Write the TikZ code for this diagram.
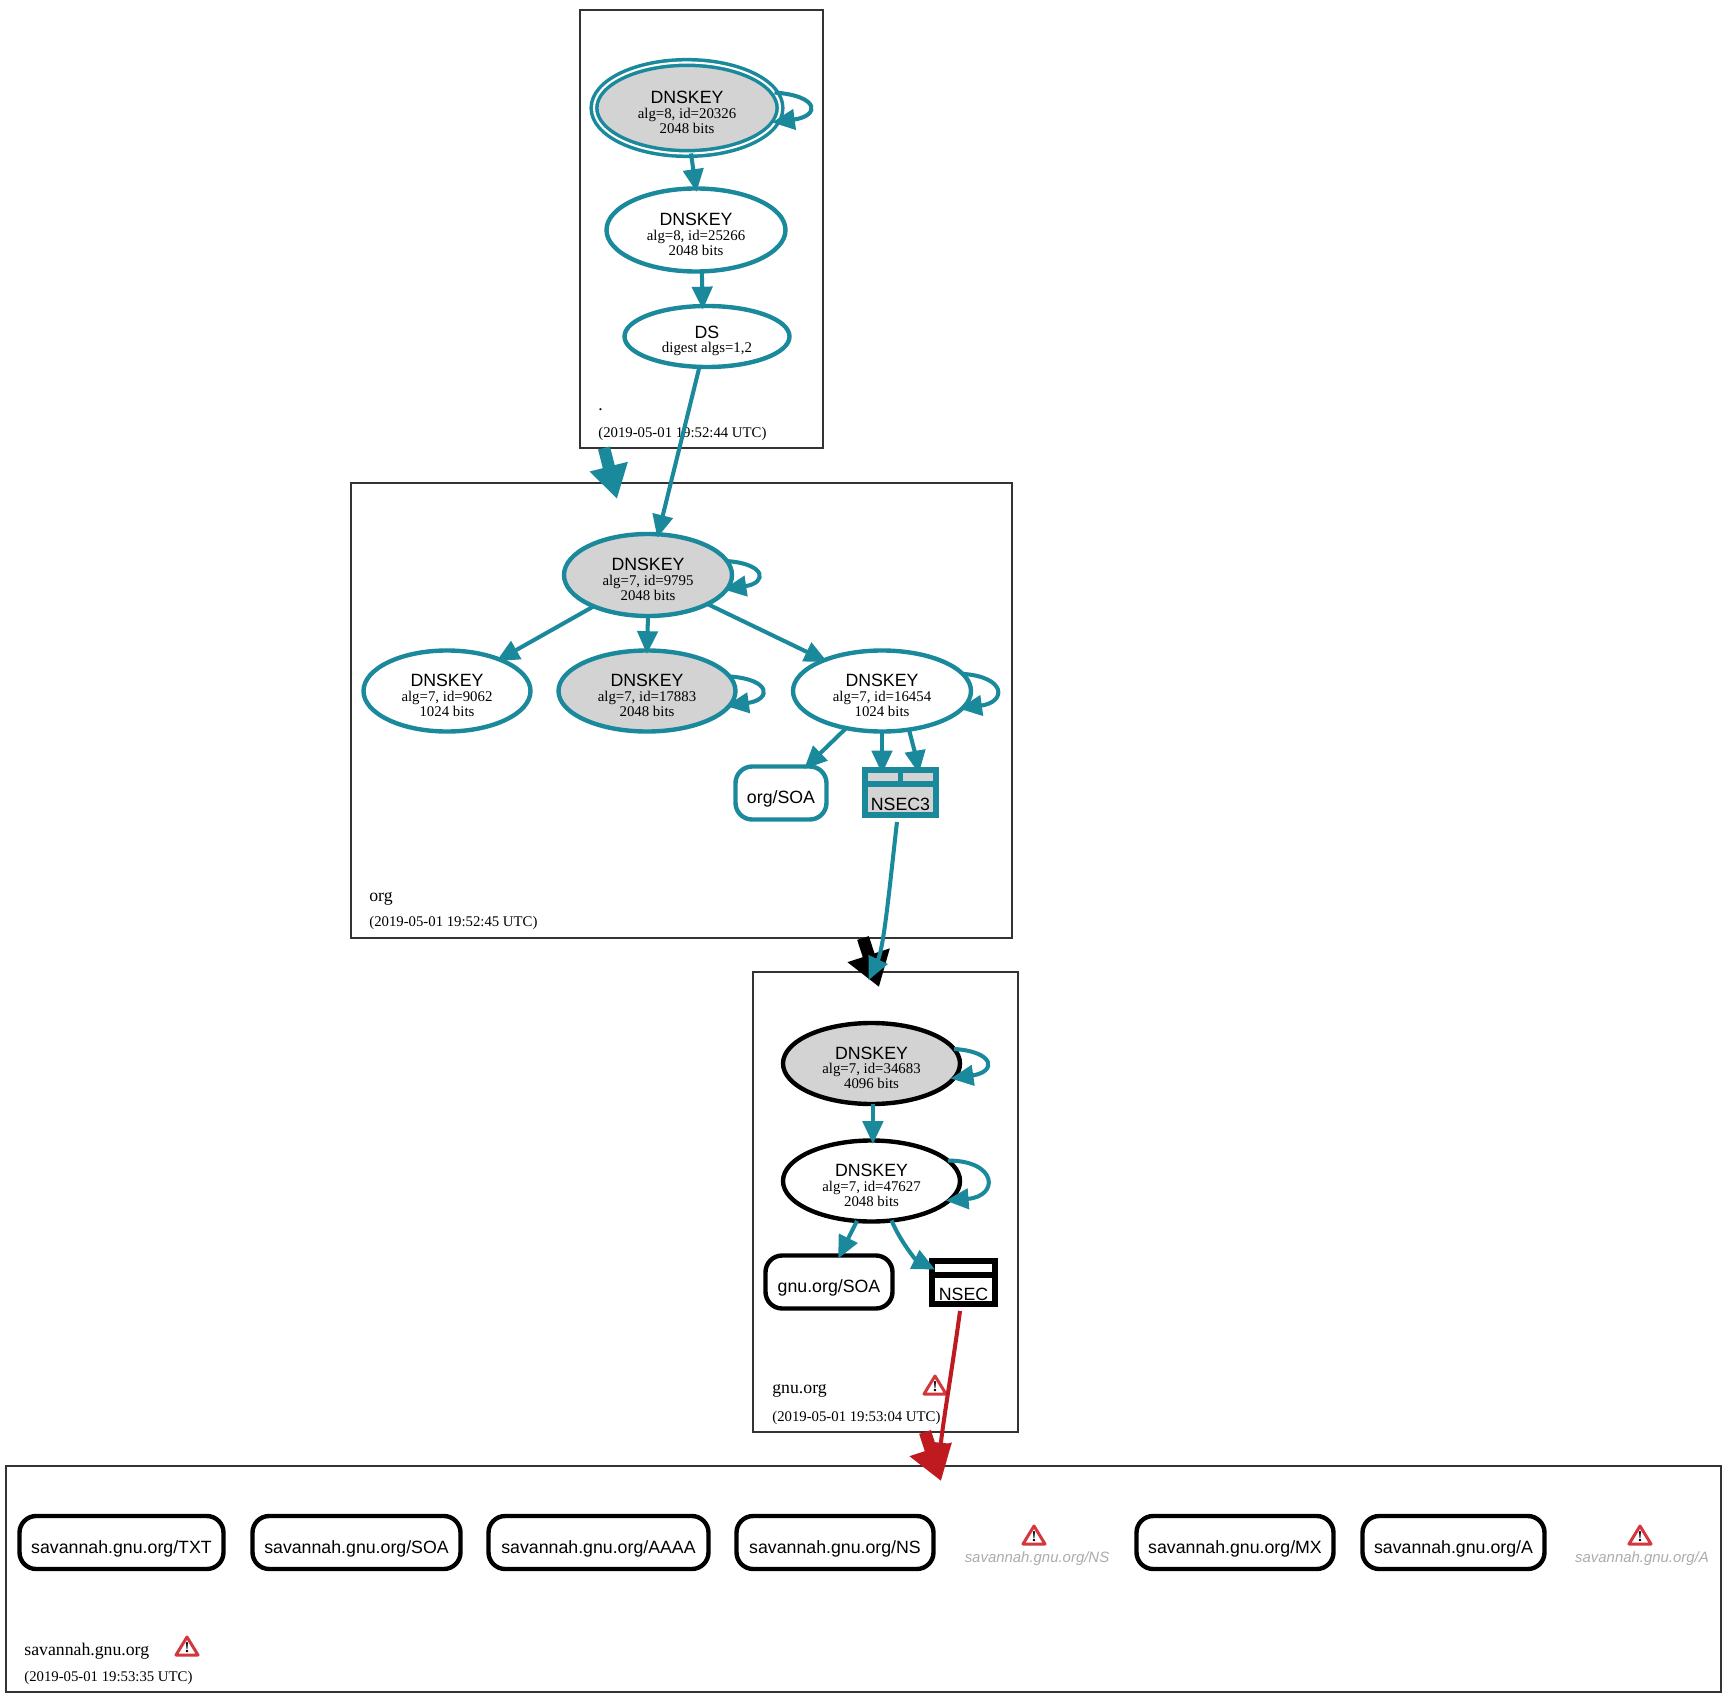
\documentclass[tikz,border=0pt]{standalone}
\usepackage{fontspec}
\setmainfont{Liberation Serif}
\setsansfont{Liberation Sans}
\usetikzlibrary{arrows.meta,shapes.geometric,fit}

\definecolor{dnsteal}{HTML}{1A899C}
\definecolor{dnsred}{HTML}{BE1A1F}
\definecolor{warnred}{HTML}{D2383D}
\definecolor{zoneline}{HTML}{333333}
\definecolor{ghostgray}{HTML}{ACACAC}
\definecolor{keygray}{HTML}{D3D3D3}

\newcommand{\keytext}[2]{{\sffamily\fontsize{10.1}{8.6}\selectfont\rule{0pt}{12pt}DNSKEY}\\#1\\#2}

\tikzset{
    zonebox/.style={draw=zoneline, line width=0.8pt, inner sep=0pt, outer sep=0pt},
    zonedate/.style={anchor=west, inner sep=0pt, font=\fontsize{8.4}{10}\selectfont},
    zonename/.style={anchor=west, inner sep=0pt, font=\fontsize{10.1}{12}\selectfont},
    keyshape/.style 2 args={ellipse, draw=dnsteal, line width=2.5pt, inner sep=0pt, outer sep=0pt,
        minimum width=#1*0.02cm, minimum height=#2*0.02cm, align=center,
        font=\fontsize{8.45}{8.4}\selectfont},
    blackkey/.style={draw=black},
    recbox/.style={draw=black, line width=2.5pt, rounded corners=9.5pt, inner sep=0pt, outer sep=0pt,
        font=\sffamily\fontsize{10.1}{12}\selectfont, text height=12pt, text depth=0pt,
        minimum height=53*0.02cm},
    nseccell/.style={line width=3.1pt, inner sep=0pt, outer sep=0pt,
        font=\sffamily\fontsize{10.1}{12}\selectfont, text height=13pt, text depth=0pt},
    ghosttext/.style={font=\sffamily\itshape\fontsize{8.5}{10}\selectfont, text=ghostgray, inner sep=0pt},
    sigedge/.style={-{Triangle[length=13pt,width=11.5pt]}, dnsteal, line width=2.3pt, shorten >=-2pt},
    zoneedge/.style={-{Triangle[length=19pt,width=#1]}, line width=7pt},
    warnicon/.pic={
        \draw[warnred, line width=1.7pt, line join=round, fill=white] (-11,9) -- (0,-9) -- (11,9) -- cycle;
        \node[inner sep=0pt, font=\bfseries\fontsize{8.5}{8.5}\selectfont] at (0,2) {!};
    }
}

\begin{document}
\begin{tikzpicture}[x=0.02cm, y=-0.02cm]
    \useasboundingbox (0,0) rectangle (1728,1696);
    \fill[white] (0,0) rectangle (1728,1696);

    \node (zoneroot) [zonebox, fit={(580,10) (823,448)}] {};
    \node (zoneorg) [zonebox, fit={(351,483) (1012,938)}] {};
    \node (zonegnu) [zonebox, fit={(753,972) (1018,1432)}] {};
    \node (zonesav) [zonebox, fit={(6,1466) (1721,1692)}] {};

    \node (rootname) [zonename] at (598,410) {.};
    \node (rootdate) [zonedate] at (598,434) {(2019-05-01 19:52:44 UTC)};
    \node (orgname) [zonename] at (369,899) {org};
    \node (orgdate) [zonedate] at (369,923) {(2019-05-01 19:52:45 UTC)};
    \node (gnuname) [zonename] at (772,1391) {gnu.org};
    \node (gnudate) [zonedate] at (772,1418) {(2019-05-01 19:53:04 UTC)};
    \node (savname) [zonename] at (24,1651) {savannah.gnu.org};
    \node (savdate) [zonedate] at (24,1678) {(2019-05-01 19:53:35 UTC)};

    \node (rootksk) [keyshape={186}{91}, fill=keygray, double=white, double distance=1.2pt, line width=2pt] at (687,108) {\keytext{alg=8, id=20326}{2048 bits}};
    \node (rootzsk) [keyshape={179}{83}] at (696,230) {\keytext{alg=8, id=25266}{2048 bits}};
    \node (rootds) [keyshape={165}{61}] at (707,336.5) {{\sffamily\fontsize{10.1}{8.6}\selectfont\rule{0pt}{12pt}DS}\\digest algs=1,2};

    \node (orgksk) [keyshape={168}{82}, fill=keygray] at (648,575) {\keytext{alg=7, id=9795}{2048 bits}};
    \node (orgkeya) [keyshape={167}{81}] at (447,691) {\keytext{alg=7, id=9062}{1024 bits}};
    \node (orgkeyb) [keyshape={177}{81}, fill=keygray] at (647,691) {\keytext{alg=7, id=17883}{2048 bits}};
    \node (orgkeyc) [keyshape={178}{81}] at (882,691) {\keytext{alg=7, id=16454}{1024 bits}};
    \node (orgsoa) [recbox, draw=dnsteal, minimum width=91*0.02cm] at (781,793) {org/SOA};

    \node (nsecthreea) [nseccell, draw=dnsteal, fill=keygray, fit={(865,770) (900.5,784)}] {};
    \node (nsecthreeb) [nseccell, draw=dnsteal, fill=keygray, fit={(900.5,770) (936,784)}] {};
    \node (nsecthreec) [nseccell, draw=dnsteal, fill=keygray, minimum width=71*0.02cm, minimum height=31*0.02cm] at (900.5,799.5) {NSEC3};

    \node (gnuksk) [keyshape={177}{81}, blackkey, fill=keygray] at (871.5,1063.5) {\keytext{alg=7, id=34683}{4096 bits}};
    \node (gnuzsk) [keyshape={177}{81}, blackkey] at (871.5,1181) {\keytext{alg=7, id=47627}{2048 bits}};
    \node (gnusoa) [recbox, minimum width=127*0.02cm] at (829,1282) {gnu.org/SOA};

    \node (nseca) [nseccell, draw=black, fit={(932,1261) (995,1275)}] {};
    \node (nsecb) [nseccell, draw=black, minimum width=63*0.02cm, minimum height=29*0.02cm] at (963.5,1289.5) {NSEC};

    \foreach \recname/\recx/\recw/\rectext in {txt/121.5/204/TXT, soa/356.5/208/SOA,
        aaaa/598.5/220/AAAA, ns/835/197/NS, mx/1235/197/MX, a/1453.5/182/A}
        \node (rec\recname) [recbox, minimum width=\recw*0.02cm] at (\recx,1542.5) {savannah.gnu.org/\rectext};

    \node (ghostns) [ghosttext] at (1037,1559) {savannah.gnu.org/NS};
    \node (ghosta) [ghosttext] at (1642,1559) {savannah.gnu.org/A};
    \pic at (935,1385) {warnicon};
    \pic at (187,1646) {warnicon};
    \pic at (1034,1535) {warnicon};
    \pic at (1640,1535) {warnicon};

    \coordinate (rootzonetail) at (604,448);
    \coordinate (orgzonehead) at (617,499);
    \coordinate (orgzonetail) at (863,938);
    \coordinate (gnuzonehead) at (879,987);
    \coordinate (gnuentry) at (870,977);
    \coordinate (gnuzonetail) at (925,1432);
    \coordinate (savzonehead) at (941,1481);
    \coordinate (saventry) at (939,1462);

    \draw[zoneedge=21pt, dnsteal] (rootzonetail) -- (orgzonehead);
    \draw[zoneedge=24pt, black] (orgzonetail) -- (gnuzonehead);
    \draw[zoneedge=24pt, dnsred] (gnuzonetail) -- (savzonehead);

    \draw[sigedge] (rootksk.10) .. controls +(45,3) and +(45,-6) .. (rootksk.-9);
    \draw[sigedge] (rootksk.-85) -- (rootzsk.90);
    \draw[sigedge] (rootzsk.-82) -- (rootds.98);
    \draw[sigedge] (rootds.-104) -- (orgksk.76);

    \draw[sigedge] (orgksk.10) .. controls +(40,3) and +(40,-6) .. (orgksk.-10);
    \draw[sigedge] (orgksk.210) -- (orgkeya.31);
    \draw[sigedge] (orgksk.-90) -- (orgkeyb.90);
    \draw[sigedge] (orgksk.-26) -- (orgkeyc.152);
    \draw[sigedge] (orgkeyb.10) .. controls +(42,3) and +(42,-6) .. (orgkeyb.-10);
    \draw[sigedge] (orgkeyc.12) .. controls +(44,3) and +(44,-6) .. (orgkeyc.-12);
    \draw[sigedge] (orgkeyc.226) -- (orgsoa.46);
    \draw[sigedge] (orgkeyc.-90) -- (nsecthreea.north -| orgkeyc);
    \draw[sigedge] (orgkeyc.-55) .. controls +(3,12) and +(-2,-12) .. (nsecthreeb.north);
    \draw[sigedge, shorten <=4pt] (nsecthreec.-100) .. controls +(-8,70) and +(14,-30) .. (gnuentry);

    \draw[sigedge] (gnuksk.10) .. controls +(42,3) and +(42,-6) .. (gnuksk.-10);
    \draw[sigedge] (gnuksk.-88) -- (gnuzsk.88);
    \draw[sigedge] (gnuzsk.15) .. controls +(50,0) and +(50,-4) .. (gnuzsk.-14);
    \draw[sigedge] (gnuzsk.-110) -- (gnusoa.68);
    \draw[sigedge] (gnuzsk.-63) .. controls +(8,20) and +(-16,-8) .. (nseca.west);
    \draw[sigedge, dnsred, shorten <=4pt] (nsecb.-100) .. controls +(-8,60) and +(4,-40) .. (saventry);
\end{tikzpicture}
\end{document}
